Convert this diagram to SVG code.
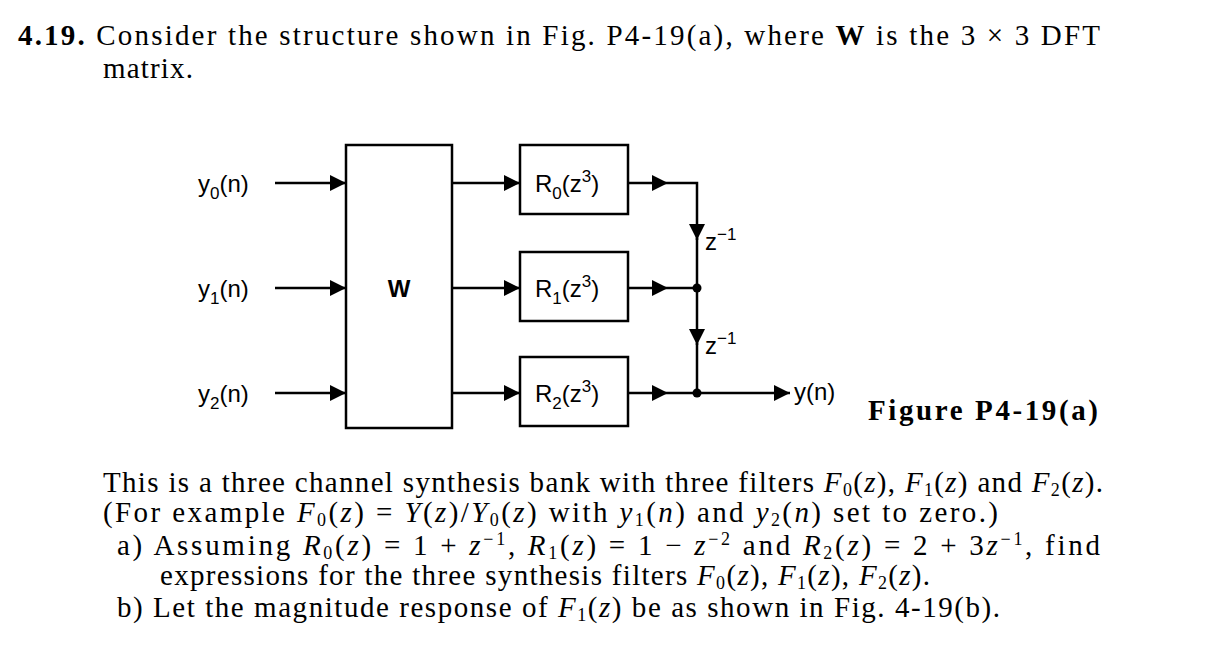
<svg xmlns="http://www.w3.org/2000/svg" width="1226" height="658" viewBox="0 0 1226 658">
<defs><marker id="ar" viewBox="0 0 10 10" refX="10" refY="5" markerWidth="18" markerHeight="16" orient="auto" markerUnits="userSpaceOnUse"><path d="M0,0L10,5L0,10z" fill="#000"/></marker></defs>
<style>
.t{font-family:"Liberation Serif",serif;font-size:29px}
.s{font-family:"Liberation Sans",sans-serif;font-size:24px}
.b{fill:none;stroke:#000;stroke-width:2.5}
.l{stroke:#000;stroke-width:2.5;fill:none}
.i{font-style:italic}
.u{font-size:18px}
</style>
<rect width="1226" height="658" fill="#fff"/>
<text class="t" x="18" y="45" textLength="1082" lengthAdjust="spacing"><tspan font-weight="bold">4.19.</tspan> Consider the structure shown in Fig. P4-19(a), where <tspan font-weight="bold">W</tspan> is the 3 × 3 DFT</text>
<text class="t" x="103" y="78" textLength="90" lengthAdjust="spacing">matrix.</text>
<g id="W"><rect class="b" x="346" y="145" width="106" height="283"/><text class="s" x="399" y="297" text-anchor="middle" font-weight="bold">W</text></g>
<g id="R0"><rect class="b" x="520" y="145" width="108" height="69"/><text class="s" x="535" y="192">R<tspan font-size="17" dy="7">0</tspan><tspan dy="-7">(z</tspan><tspan font-size="17" dy="-10">3</tspan><tspan dy="10">)</tspan></text></g>
<g id="R1"><rect class="b" x="520" y="252" width="108" height="69"/><text class="s" x="535" y="297">R<tspan font-size="17" dy="7">1</tspan><tspan dy="-7">(z</tspan><tspan font-size="17" dy="-10">3</tspan><tspan dy="10">)</tspan></text></g>
<g id="R2"><rect class="b" x="520" y="357" width="108" height="69"/><text class="s" x="535" y="402">R<tspan font-size="17" dy="7">2</tspan><tspan dy="-7">(z</tspan><tspan font-size="17" dy="-10">3</tspan><tspan dy="10">)</tspan></text></g>
<g id="labels" class="s">
<text x="198" y="192">y<tspan font-size="17" dy="7">0</tspan><tspan dy="-7">(n)</tspan></text>
<text x="198" y="297">y<tspan font-size="17" dy="7">1</tspan><tspan dy="-7">(n)</tspan></text>
<text x="198" y="402">y<tspan font-size="17" dy="7">2</tspan><tspan dy="-7">(n)</tspan></text>
<text x="705" y="250">z<tspan font-size="17" dy="-10">−1</tspan></text>
<text x="705" y="354">z<tspan font-size="17" dy="-10">−1</tspan></text>
<text x="794" y="400">y(n)</text>
</g>
<g id="connectors" class="l" marker-end="url(#ar)">
<path d="M275,183H346"/><path d="M275,288H346"/><path d="M275,393H346"/>
<path d="M452,183H520"/><path d="M452,288H520"/><path d="M452,393H520"/>
<path d="M628,183H668"/><path d="M628,288H668"/><path d="M628,393H668"/>
<path d="M668,183H697V240"/><path d="M697,238V288" marker-end="none"/>
<path d="M697,288V345"/><path d="M697,343V393" marker-end="none"/>
<path d="M668,288H697" marker-end="none"/><path d="M668,393H790"/>
</g>
<circle cx="697" cy="288" r="4.5"/><circle cx="697" cy="393" r="4.5"/>
<text class="t" x="868" y="420" font-weight="bold" textLength="230" lengthAdjust="spacing">Figure P4-19(a)</text>
<g class="t">
<text x="103" y="492" textLength="1000" lengthAdjust="spacing">This is a three channel synthesis bank with three filters <tspan class="i">F</tspan><tspan class="u" dy="4">0</tspan><tspan dy="-4">(</tspan><tspan class="i">z</tspan>), <tspan class="i">F</tspan><tspan class="u" dy="4">1</tspan><tspan dy="-4">(</tspan><tspan class="i">z</tspan>) and <tspan class="i">F</tspan><tspan class="u" dy="4">2</tspan><tspan dy="-4">(</tspan><tspan class="i">z</tspan>).</text>
<text x="103" y="522" textLength="895" lengthAdjust="spacing">(For example <tspan class="i">F</tspan><tspan class="u" dy="4">0</tspan><tspan dy="-4">(</tspan><tspan class="i">z</tspan>) = <tspan class="i">Y</tspan>(<tspan class="i">z</tspan>)/<tspan class="i">Y</tspan><tspan class="u" dy="4">0</tspan><tspan dy="-4">(</tspan><tspan class="i">z</tspan>) with <tspan class="i">y</tspan><tspan class="u" dy="4">1</tspan><tspan dy="-4">(</tspan><tspan class="i">n</tspan>) and <tspan class="i">y</tspan><tspan class="u" dy="4">2</tspan><tspan dy="-4">(</tspan><tspan class="i">n</tspan>) set to zero.)</text>
<text x="117" y="555" textLength="983" lengthAdjust="spacing">a) Assuming <tspan class="i">R</tspan><tspan class="u" dy="4">0</tspan><tspan dy="-4">(</tspan><tspan class="i">z</tspan>) = 1 + <tspan class="i">z</tspan><tspan class="u" dy="-10">−1</tspan><tspan dy="10">, </tspan><tspan class="i">R</tspan><tspan class="u" dy="4">1</tspan><tspan dy="-4">(</tspan><tspan class="i">z</tspan>) = 1 − <tspan class="i">z</tspan><tspan class="u" dy="-10">−2</tspan><tspan dy="10"> and </tspan><tspan class="i">R</tspan><tspan class="u" dy="4">2</tspan><tspan dy="-4">(</tspan><tspan class="i">z</tspan>) = 2 + 3<tspan class="i">z</tspan><tspan class="u" dy="-10">−1</tspan><tspan dy="10">, find</tspan></text>
<text x="160" y="585" textLength="770" lengthAdjust="spacing">expressions for the three synthesis filters <tspan class="i">F</tspan><tspan class="u" dy="4">0</tspan><tspan dy="-4">(</tspan><tspan class="i">z</tspan>), <tspan class="i">F</tspan><tspan class="u" dy="4">1</tspan><tspan dy="-4">(</tspan><tspan class="i">z</tspan>), <tspan class="i">F</tspan><tspan class="u" dy="4">2</tspan><tspan dy="-4">(</tspan><tspan class="i">z</tspan>).</text>
<text x="117" y="617" textLength="883" lengthAdjust="spacing">b) Let the magnitude response of <tspan class="i">F</tspan><tspan class="u" dy="4">1</tspan><tspan dy="-4">(</tspan><tspan class="i">z</tspan>) be as shown in Fig. 4-19(b).</text>
</g>
</svg>
